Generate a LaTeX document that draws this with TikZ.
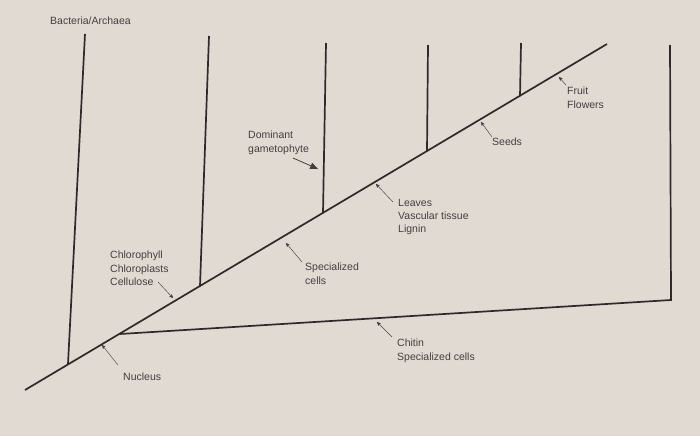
\documentclass[tikz,border=0pt]{standalone}
\usepackage{fontspec}
\setmainfont{Liberation Sans}
\usepackage{xcolor}
\usepackage{tikz}
\usetikzlibrary{arrows}

\definecolor{paper}{RGB}{224,218,211}
\definecolor{ink}{RGB}{50,40,40}
\definecolor{print}{RGB}{70,62,62}

\begin{document}
\begin{tikzpicture}[x=1pt, y=-1pt, >=stealth']

	\tikzstyle{stem}=[ink,line width=1.7pt]
	\tikzstyle{trait}=[print,line width=0.45pt,->]
	\tikzstyle{lbl}=[anchor=north west,inner sep=0pt,align=left,text=print,font=\fontsize{10.5}{13.2}\selectfont]

	% paper
	\fill[paper] (0,0) rectangle (700,436);
	\useasboundingbox (0,0) rectangle (700,436);

	% main stem and forks
	\coordinate (root) at (25,390);
	\coordinate (top) at (607,44);
	\coordinate (b1) at (68,364);   \coordinate (t1) at (85,34);
	\coordinate (fork) at (120,334);
	\coordinate (r1) at (671,300);  \coordinate (t7) at (670,45);
	\coordinate (b2) at (200,286);  \coordinate (t2) at (209,36);
	\coordinate (b3) at (323,213);  \coordinate (t3) at (326,43);
	\coordinate (b4) at (427,151);  \coordinate (t4) at (428,45);
	\coordinate (b5) at (520,96);   \coordinate (t5) at (521,43);

	\path[stem] (root) edge (top);
	\path[stem] (b1) edge (t1);
	\path[stem] (b2) edge (t2);
	\path[stem] (b3) edge (t3);
	\path[stem] (b4) edge (t4);
	\path[stem] (b5) edge (t5);
	% fungi / animals side
	\draw[stem] (fork) -- (r1) -- (t7);

	% labels
	\node[lbl] (bact) at (50,17) {Bacteria/Archaea};
	\node[lbl] (nucl) at (123,373) {Nucleus};
	\node[lbl] (chlo) at (110,251) {Chlorophyll\\Chloroplasts\\Cellulose};
	\node[lbl] (spec) at (305,263) {Specialized\\cells};
	\node[lbl] (domi) at (248,131) {Dominant\\gametophyte};
	\node[lbl] (leav) at (398,199) {Leaves\\Vascular tissue\\Lignin};
	\node[lbl] (seed) at (492,138) {Seeds};
	\node[lbl] (frui) at (567,87) {Fruit\\Flowers};
	\node[lbl] (chit) at (397,339) {Chitin\\Specialized cells};

	% pointers
	\coordinate (nuclT) at (118,365);  \coordinate (nuclH) at (102,345);
	\coordinate (chloT) at (158,282);  \coordinate (chloH) at (173,298);
	\coordinate (specT) at (302,262);  \coordinate (specH) at (286,243);
	\coordinate (domiT) at (293,158);  \coordinate (domiH) at (318,169);
	\coordinate (leavT) at (393,202);  \coordinate (leavH) at (376,184);
	\coordinate (seedT) at (492,137);  \coordinate (seedH) at (481,122);
	\coordinate (fruiT) at (566,85);   \coordinate (fruiH) at (559,77);
	\coordinate (chitT) at (392,337);  \coordinate (chitH) at (377,322);

	\path[trait] (nuclT) edge (nuclH);
	\path[trait] (chloT) edge (chloH);
	\path[trait] (specT) edge (specH);
	\path[trait] (leavT) edge (leavH);
	\path[trait] (seedT) edge (seedH);
	\path[trait] (fruiT) edge (fruiH);
	\path[trait] (chitT) edge (chitH);
	\path[print,line width=0.8pt,-triangle 45] (domiT) edge (domiH);

\end{tikzpicture}
\end{document}
